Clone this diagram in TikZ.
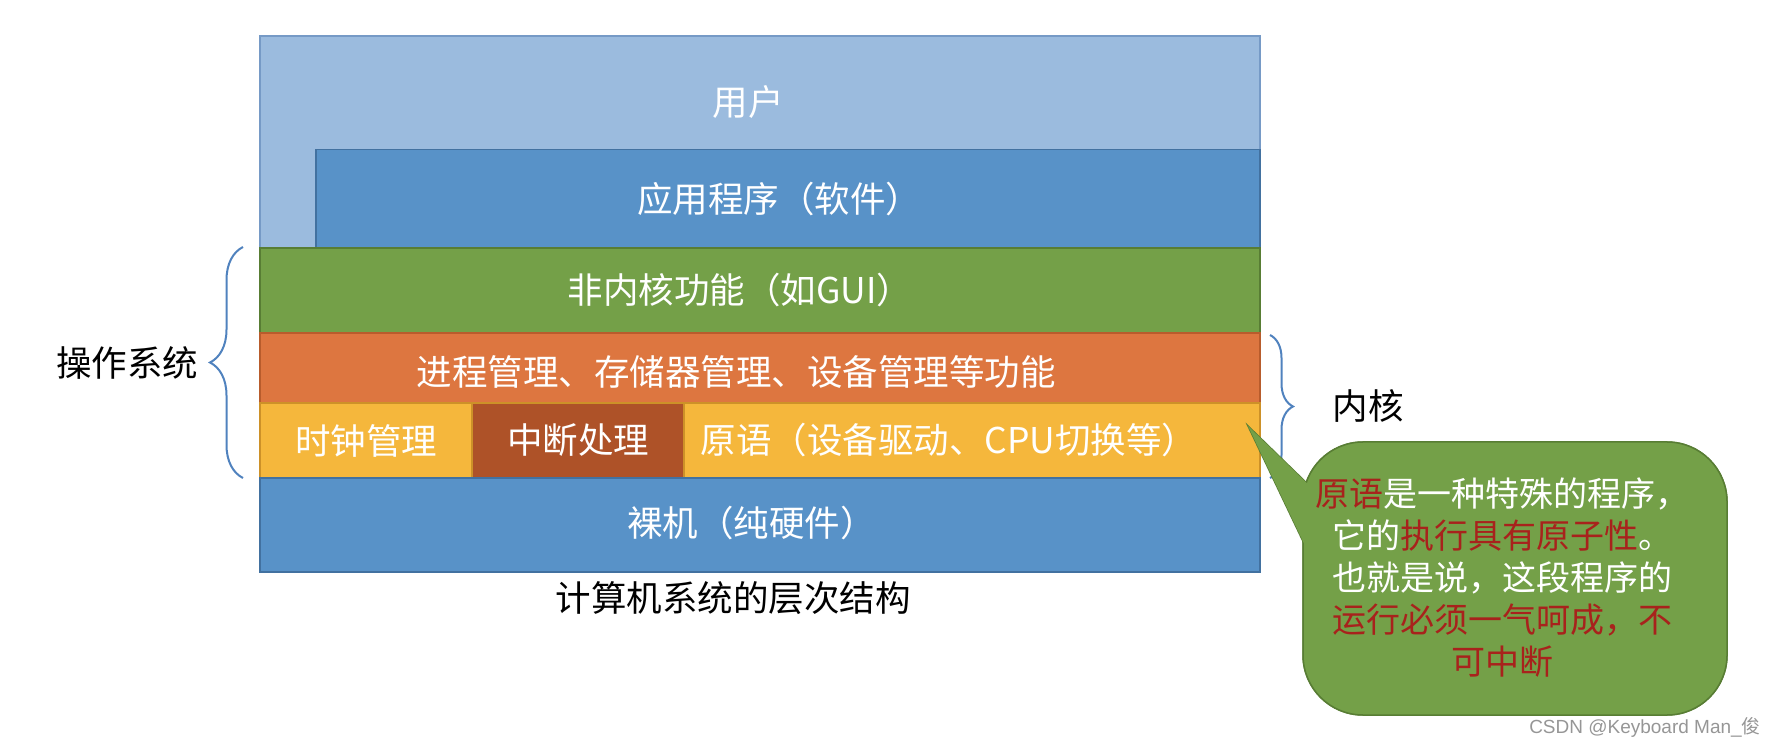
\documentclass[tikz,border=0pt]{standalone}
\usepackage{fontspec}
\setmainfont{Noto Sans CJK SC}
\newfontfamily\wmfont{Liberation Sans}
\usetikzlibrary{decorations.pathreplacing}
\definecolor{userblue}{RGB}{155,187,222}
\definecolor{userline}{RGB}{118,154,198}
\definecolor{appblue}{RGB}{88,146,200}
\definecolor{appline}{RGB}{66,113,160}
\definecolor{osgreen}{RGB}{116,160,72}
\definecolor{osgreenline}{RGB}{88,125,52}
\definecolor{kerorange}{RGB}{221,118,64}
\definecolor{kerorangeline}{RGB}{184,92,44}
\definecolor{primyellow}{RGB}{245,183,60}
\definecolor{primline}{RGB}{205,145,40}
\definecolor{irqbrown}{RGB}{174,82,40}
\definecolor{braceblue}{RGB}{80,130,190}
\definecolor{keyred}{RGB}{168,34,28}
\definecolor{markgray}{RGB}{150,150,150}
\tikzset{
  layer/.style={line width=1.3pt},
  boxtext/.style={text=white,inner sep=0pt,font=\fontsize{35.5}{40}\selectfont},
  sidetext/.style={text=black,inner sep=0pt,font=\fontsize{35.5}{40}\selectfont},
  bracket/.style={decorate,decoration={brace,amplitude=#1},draw=braceblue,line width=2pt},
  callfill/.style={fill=osgreen},
  notebox/.style={callfill,draw=osgreenline,line width=1.5pt,rounded corners=60pt,
    minimum width=424pt,minimum height=273pt,inner sep=0pt},
  notetext/.style={text=white,align=center,inner sep=0pt,font=\fontsize{34}{42}\selectfont},
}

\begin{document}
\begin{tikzpicture}[x=1pt,y=1pt]
\useasboundingbox (0,0) rectangle (1776,747);
% Drawing layers
% Layer 1: user
\filldraw[layer,fill=userblue,draw=userline] (260,499) rectangle (1260,711);
\node[boxtext] (user) at (748,645) {用户};
% Layer 2: application software
\filldraw[layer,fill=appblue,draw=appline] (316,499) rectangle (1260,597.5);
\node[boxtext] (app) at (779,548) {应用程序（软件）};
% Layer 3: non-kernel functions
\filldraw[layer,fill=osgreen,draw=osgreenline] (260,414) rectangle (1260,499);
\node[boxtext] (nonker) at (740,457) {非内核功能（如GUI）};
% Layer 4: kernel management
\filldraw[layer,fill=kerorange,draw=kerorangeline] (260,344) rectangle (1260,414);
\node[boxtext] (kermgr) at (736,375.5) {进程管理、存储器管理、设备管理等功能};
% Layer 5: clock, interrupt, primitives
\filldraw[layer,fill=primyellow,draw=primline] (260,269) rectangle (472,344);
\node[boxtext] (clock) at (366,306.5) {时钟管理};
\filldraw[layer,fill=irqbrown,draw=primline] (472,269) rectangle (684,344);
\node[boxtext] (irq) at (578,306.5) {中断处理};
\filldraw[layer,fill=primyellow,draw=primline] (684,269) rectangle (1260,344);
\node[boxtext] (prim) at (949,306.5) {原语（设备驱动、CPU切换等）};
% Layer 6: bare machine
\filldraw[layer,fill=appblue,draw=appline] (260,175) rectangle (1260,269);
\node[boxtext] (bare) at (751.5,224) {裸机（纯硬件）};
% Done with layers; drawing caption and braces
\node[sidetext] (caption) at (733,149) {计算机系统的层次结构};
\coordinate (osbot) at (243,269);
\coordinate (ostop) at (243,500);
\draw[bracket=33pt] (osbot) -- (ostop);
\node[sidetext] (os) at (127,384) {操作系统};
\coordinate (kertop) at (1270,412);
\coordinate (kerbot) at (1270,269);
\draw[bracket=23pt] (kertop) -- (kerbot);
\node[sidetext] (kernel) at (1368,341) {内核};
% Drawing the note on primitives
\coordinate (tip) at (1248,321);
\node[notebox] (note) at (1515,168.5) {};
\filldraw[callfill,draw=osgreenline,line width=1.5pt] (tip) -- ([xshift=7pt,yshift=93pt]note.west) -- ([xshift=7pt,yshift=24pt]note.west) -- cycle;
\node[notebox] (note) at (1515,168.5) {};
\fill[callfill] (tip) -- ([xshift=7pt,yshift=93pt]note.west) -- ([xshift=7pt,yshift=24pt]note.west) -- cycle;
\node[notetext] (notetxt) at (1502,169.5) {\textcolor{keyred}{原语}是一种特殊的程序，\\
它的\textcolor{keyred}{执行具有原子性}。\\
也就是说，这段程序的\\
\textcolor{keyred}{运行必须一气呵成，不}\\
\textcolor{keyred}{可中断}};
% Done with note; drawing watermark
\node[text=markgray,inner sep=0pt,font=\fontsize{19}{22}\selectfont] (mark) at (1645,20) {{\wmfont CSDN @Keyboard Man\_}俊};
\end{tikzpicture}
\end{document}
